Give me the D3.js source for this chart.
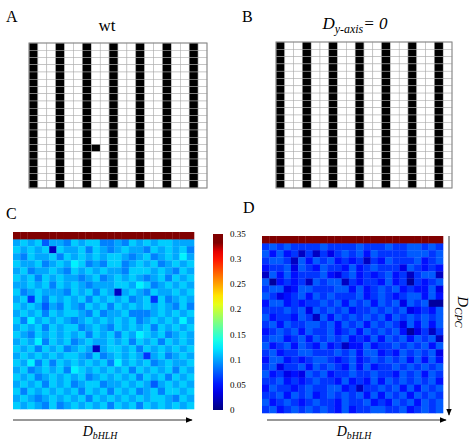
<!DOCTYPE html>
<html><head><meta charset="utf-8">
<script src="https://cdn.jsdelivr.net/npm/d3@7"></script>
<style>body{margin:0;background:#fff}text{font-family:"Liberation Serif",serif}</style>
</head><body><svg id="c" width="474" height="444"></svg>
<script>
// Panel A/B: 20x20 cells; black columns
const gridCols = 20, gridRows = 20;
const blackColsA = [0,3,6,9,12,15,18];
const extraBlackA = [{c:7,r:14}];
const blackColsB = [0,3,6,9,12,15,18];
// Heatmap levels (one char per cell, 25 columns x 24 rows), value = levelBase + levelStep*digit
const levelBase = 0.01, levelStep = 0.013;
const topRowValue = 0.35;
const colorTicks = [0,0.05,0.1,0.15,0.2,0.25,0.3,0.35];
const heatC = [
"7878577687886676878788777",
"8787818778687678776878786",
"7687786878787887678678797",
"8778678798676886787867878",
"7867787687878776888787687",
"8786878776786787876786878",
"7787868787677788798678787",
"8678777687868717876877878",
"7848687878687878678486787",
"8787576876878687878787686",
"7878687887686778666787878",
"8697878767878787867878797",
"7878687886787687878687878",
"8768787878687868798786787",
"7879687867877878687868787",
"8786878678717887868787878",
"7878787887686787874786787",
"8796868787878697878678778",
"7867878698787878687878687",
"8786787878678787868786878",
"7878687867886778787578787",
"8687878786878687867868878",
"7876787878687878787887687",
"8787686787878687868787878"];
const heatD = [
"4545444454444544454455454",
"5353414142454535444455545",
"4554153545343414354445345",
"3445254354435345444254343",
"1535344453245343453414551",
"5034341545514344353404345",
"4552355444553534545343352",
"5423453545444534543455353",
"3553434454535453545254500",
"4445452545453445454523435",
"5344354153545454535454545",
"4535445545354535454253535",
"3454535445345354545302414",
"4553453545453435354535451",
"5345354353413353445454535",
"4534455444545355343545452",
"3553434554345345454535353",
"4524453545435353445454545",
"5342325453445445443545354",
"4453434544353435354545453",
"3544345445534144545353545",
"4453545345454535354535454",
"5345434544354453435453545",
"4534545454353445544534545"];

const svg = d3.select("#c");
function grid(x0,y0,x1,y1,blackCols,extras){
  const x = d3.scaleBand().domain(d3.range(gridCols)).range([x0,x1]);
  const y = d3.scaleBand().domain(d3.range(gridRows)).range([y0,y1]);
  const cells=[];
  for(let r=0;r<gridRows;r++)for(let c=0;c<gridCols;c++){
    const b = blackCols.includes(c) || extras.some(e=>e.c===c&&e.r===r);
    cells.push({r,c,b});
  }
  const g=svg.append("g");
  g.selectAll("rect").data(cells).join("rect")
   .attr("x",d=>x(d.c)).attr("y",d=>y(d.r)).attr("width",x.bandwidth()).attr("height",y.bandwidth())
   .attr("fill",d=>d.b?"#000":"#fff").attr("stroke","#aaa").attr("stroke-width",0.5);
  g.append("rect").attr("x",x0).attr("y",y0).attr("width",x1-x0).attr("height",y1-y0)
   .attr("fill","none").attr("stroke","#888").attr("stroke-width",1);
}
grid(29,43,207,188,blackColsA,extraBlackA);
grid(276,42,452,188,blackColsB,[]);

function jet(t){
  t=Math.max(0,Math.min(1,t));
  const f=v=>Math.max(0,Math.min(1,v));
  const r=f(1.5-Math.abs(4*t-3)), g=f(1.5-Math.abs(4*t-2)), b=f(1.5-Math.abs(4*t-1));
  return d3.rgb(r*255,g*255,b*255).toString();
}
const cscale = d3.scaleLinear().domain([0,0.35]).range([0,1]);
function heat(data,x0,y0,x1,y1){
  const rows=[topRowValue, ...data];
  const x=d3.scaleBand().domain(d3.range(25)).range([x0,x1]);
  const y=d3.scaleBand().domain(d3.range(rows.length)).range([y0,y1]);
  const cells=[];
  data.forEach((s,r)=>s.split("").forEach((ch,c)=>cells.push({r:r+1,c,v:levelBase+levelStep*(+ch)})));
  d3.range(25).forEach(c=>cells.push({r:0,c,v:topRowValue}));
  svg.append("g").selectAll("rect").data(cells).join("rect")
   .attr("x",d=>x(d.c)).attr("y",d=>y(d.r)).attr("width",x.bandwidth()+0.3).attr("height",y.bandwidth()+0.3)
   .attr("fill",d=>d.v>=0.3?"#800000":jet(cscale(d.v)));
}
heat(heatC,13,232,194,409);
heat(heatD,262,236,443,413);

// colorbar
const cy=d3.scaleLinear().domain([0,0.35]).range([410,234]);
const defs=svg.append("defs");
const lg=defs.append("linearGradient").attr("id","jet").attr("x1",0).attr("y1",1).attr("x2",0).attr("y2",0);
d3.range(0,1.001,0.05).forEach(t=>lg.append("stop").attr("offset",t).attr("stop-color",t>0.95?"#800000":jet(t)));
svg.append("rect").attr("x",213).attr("y",234).attr("width",10).attr("height",176).attr("fill","url(#jet)");
svg.append("g").selectAll("text").data(colorTicks).join("text")
  .attr("x",230).attr("y",d=>cy(d)+3).attr("font-size",9).text(d=>d);

// arrows
defs.append("marker").attr("id","ar").attr("viewBox","0 0 10 10").attr("refX",9).attr("refY",5)
  .attr("markerWidth",7).attr("markerHeight",7).attr("orient","auto")
  .append("path").attr("d","M0,1L10,5L0,9z").attr("fill","#000");
const arrow=(a,b,c,d)=>svg.append("line").attr("x1",a).attr("y1",b).attr("x2",c).attr("y2",d)
  .attr("stroke","#333").attr("stroke-width",1).attr("marker-end","url(#ar)");
arrow(13,420,192,420); arrow(267,420,446,420); arrow(449,236,449,415);

function sub(x,y,main,subT,size,anchor,rot){
  const t=svg.append("text").attr("x",x).attr("y",y).attr("font-size",size).attr("font-style","italic")
   .attr("text-anchor",anchor||"middle");
  if(rot) t.attr("transform",`rotate(90,${x},${y})`);
  t.append("tspan").text(main);
  t.append("tspan").attr("font-size",size*0.7).attr("dy",size*0.22).text(subT);
  return t;
}
sub(100,436,"D","bHLH",14);
sub(354,436,"D","bHLH",14);
sub(458,312,"D","CPC",15,"middle",true);
const tb=sub(355,29,"D","y-axis",17);
tb.append("tspan").attr("dy",-17*0.22).attr("font-size",17).text("= 0");

svg.append("text").attr("x",107).attr("y",31).attr("font-size",17).attr("text-anchor","middle").text("wt");
[["A",6,22],["B",242,22],["C",6,219],["D",243,213]].forEach(([t,x,y])=>
  svg.append("text").attr("x",x).attr("y",y).attr("font-size",16).text(t));
</script></body></html>
